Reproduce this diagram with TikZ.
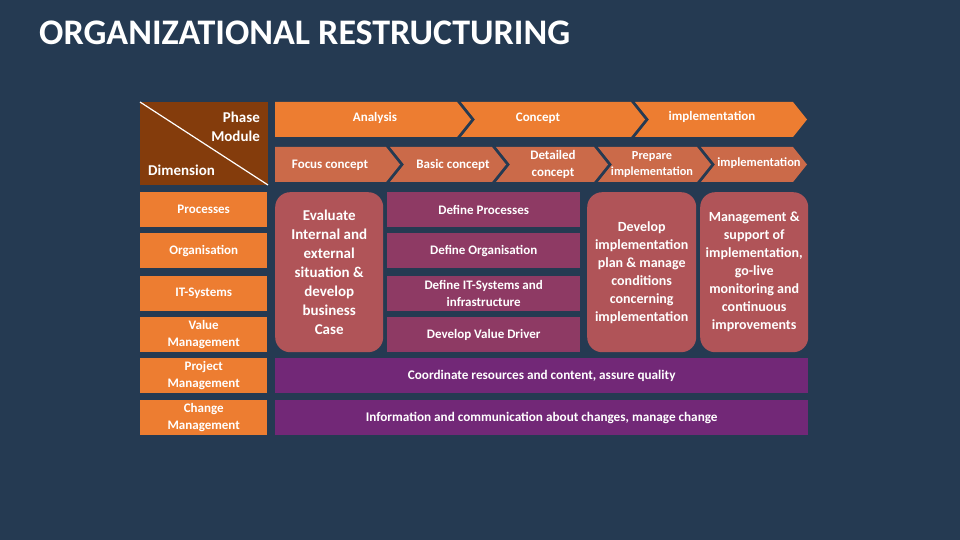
\documentclass[tikz,border=0pt]{standalone}
\usepackage{fontspec}
\setmainfont{Carlito}
\definecolor{bgnavy}{HTML}{253A52}
\definecolor{orgorange}{HTML}{ED7D31}
\definecolor{orgbrown}{HTML}{843C0C}
\definecolor{steprust}{HTML}{CB6A49}
\definecolor{taskrose}{HTML}{B05458}
\definecolor{taskplum}{HTML}{8E3A64}
\definecolor{barviolet}{HTML}{722877}
\tikzset{
  dimcell/.style={fill=orgorange, text=white, font=\fontsize{13}{17}\selectfont\bfseries,
    align=center, inner sep=0pt, anchor=north west, minimum width=127pt},
  plumcell/.style={fill=taskplum, text=white, font=\fontsize{13}{17}\selectfont\bfseries,
    align=center, inner sep=0pt, anchor=north west, minimum width=193pt},
  rosebox/.style={fill=taskrose, text=white, rounded corners=15pt, align=center,
    inner sep=0pt, anchor=north west, minimum width=108pt, minimum height=160pt},
  barcell/.style={fill=barviolet, text=white, font=\fontsize{13.2}{15}\selectfont\bfseries,
    inner sep=0pt, anchor=north west, minimum width=533pt},
  chevtext/.style={text=white, font=\fontsize{13}{14}\selectfont\bfseries, align=center},
}
\begin{document}
\begin{tikzpicture}[x=1pt, y=-1pt]
  \useasboundingbox[fill=bgnavy] (0,0) rectangle (960,540);

  % title
  \node[anchor=base west, inner sep=0pt, text=white, font=\fontsize{36}{40}\selectfont\bfseries]
    (title) at (39,45) {ORGANIZATIONAL RESTRUCTURING};

  % corner header
  \fill[orgbrown] (140,102) rectangle (268,185);
  \draw[white, line width=1.2pt] (140,102) -- (268,185);
  \node[anchor=north east, align=right, text=white, font=\fontsize{15}{19}\selectfont\bfseries, inner sep=0pt]
    (phase) at (260,112) {Phase\\Module};
  \node[anchor=west, text=white, font=\fontsize{15}{17}\selectfont\bfseries, inner sep=0pt]
    (dimension) at (148,170) {Dimension};

  % phase chevrons
  \fill[orgorange] (275,102) -- (457,102) -- (471,119.5) -- (457,137) -- (275,137) -- cycle;
  \fill[orgorange] (461,102) -- (631,102) -- (645,119.5) -- (631,137) -- (461,137) -- (475,119.5) -- cycle;
  \fill[orgorange] (635,102) -- (793,102) -- (807,119.5) -- (793,137) -- (635,137) -- (649,119.5) -- cycle;
  \node[chevtext] (analysis) at (375,118) {Analysis};
  \node[chevtext] (concept) at (538,118) {Concept};
  \node[chevtext] (implA) at (712,117) {implementation};

  % module chevrons
  \fill[steprust] (275,147) -- (386,147) -- (400,164.5) -- (386,182) -- (275,182) -- cycle;
  \fill[steprust] (390,147) -- (492,147) -- (506,164.5) -- (492,182) -- (390,182) -- (404,164.5) -- cycle;
  \fill[steprust] (496,147) -- (594,147) -- (608,164.5) -- (594,182) -- (496,182) -- (510,164.5) -- cycle;
  \fill[steprust] (598,147) -- (697,147) -- (711,164.5) -- (697,182) -- (598,182) -- (612,164.5) -- cycle;
  \fill[steprust] (701,147) -- (793,147) -- (807,164.5) -- (793,182) -- (701,182) -- (715,164.5) -- cycle;
  \node[chevtext] (focus) at (330,165) {Focus concept};
  \node[chevtext] (basic) at (453,165) {Basic concept};
  \node[chevtext, font=\fontsize{13}{17}\selectfont\bfseries] (detailed) at (553,164) {Detailed\\concept};
  \node[chevtext, font=\fontsize{12.3}{16}\selectfont\bfseries] (prepare) at (652,164) {Prepare\\implementation};
  \node[chevtext, font=\fontsize{12.5}{14}\selectfont\bfseries] (implB) at (759,163) {implementation};

  % dimensions
  \node[dimcell, minimum height=35pt] (processes) at (140,192) {Processes};
  \node[dimcell, minimum height=35pt] (organisation) at (140,233) {Organisation};
  \node[dimcell, minimum height=35pt] (itsystems) at (140,276) {IT-Systems};
  \node[dimcell, minimum height=35pt] (valuemgmt) at (140,317) {Value\\Management};
  \node[dimcell, minimum height=35pt] (projectmgmt) at (140,358) {Project\\Management};
  \node[dimcell, minimum height=35pt] (changemgmt) at (140,400) {Change\\Management};

  % tasks
  \node[rosebox, font=\fontsize{15}{19}\selectfont\bfseries] (evaluate) at (275,192)
    {Evaluate\\Internal and\\external\\situation \&\\develop\\business\\Case};
  \node[plumcell, minimum height=35pt] (defproc) at (387,192) {Define Processes};
  \node[plumcell, minimum height=35pt] (deforg) at (387,233) {Define Organisation};
  \node[plumcell, minimum height=35pt] (defit) at (387,276) {Define IT-Systems and\\infrastructure};
  \node[plumcell, minimum height=35pt] (valdriver) at (387,317) {Develop Value Driver};
  \node[rosebox, minimum width=109pt, font=\fontsize{14}{18}\selectfont\bfseries] (implplan) at (587,192)
    {Develop\\implementation\\plan \& manage\\conditions\\concerning\\implementation};
  \node[rosebox, font=\fontsize{14}{18}\selectfont\bfseries] (support) at (700,192)
    {Management \&\\support of\\implementation,\\go-live\\monitoring and\\continuous\\improvements};

  % bars
  \node[barcell, minimum height=35pt] (coordinate) at (275,358) {Coordinate resources and content, assure quality};
  \node[barcell, minimum height=35pt] (information) at (275,400) {Information and communication about changes, manage change};
\end{tikzpicture}
\end{document}
